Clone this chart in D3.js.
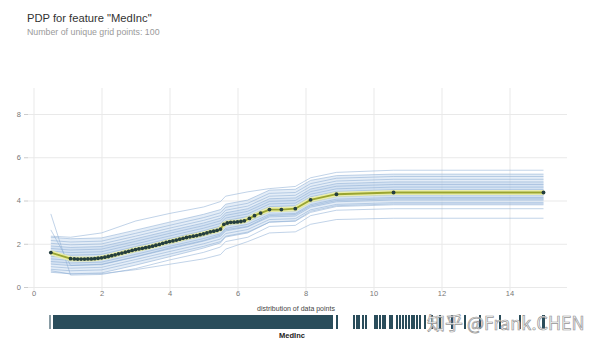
<!DOCTYPE html>
<html><head><meta charset="utf-8">
<script src="https://cdn.jsdelivr.net/npm/d3@7"></script>
<style>body{margin:0;background:#fff} svg{display:block}</style>
</head><body><svg id="c" width="600" height="345"></svg>
<script>
const titleText = 'PDP for feature "MedInc"';
const subtitleText = 'Number of unique grid points: 100';
const xTicks = [0,2,4,6,8,10,12,14];
const yTicks = [0,2,4,6,8];

const pdpX = [0.51,1.09,1.2,1.3,1.4,1.5,1.6,1.7,1.8,1.9,2.0,2.1,2.2,2.3,2.4,2.5,2.6,2.7,2.8,2.9,3.0,3.1,3.2,3.3,3.4,3.5,3.6,3.7,3.8,3.9,4.0,4.1,4.2,4.3,4.4,4.5,4.6,4.7,4.8,4.9,5.0,5.1,5.2,5.3,5.4,5.5,5.6,5.7,5.8,5.9,6.0,6.1,6.2,6.35,6.5,6.68,6.94,7.29,7.7,8.15,8.91,10.59,15.0];
const pdpY = [1.59,1.31,1.30,1.29,1.29,1.29,1.30,1.30,1.31,1.33,1.35,1.38,1.41,1.45,1.49,1.53,1.57,1.61,1.65,1.69,1.73,1.76,1.79,1.82,1.85,1.89,1.93,1.97,2.02,2.06,2.10,2.13,2.17,2.21,2.25,2.29,2.32,2.35,2.38,2.42,2.46,2.50,2.55,2.58,2.62,2.68,2.90,2.96,2.99,3.00,3.01,3.03,3.06,3.17,3.30,3.42,3.58,3.58,3.62,4.03,4.29,4.37,4.37];

const iceX = [0.51,1.09,2.0,3.0,4.0,5.0,5.5,5.65,6.3,6.94,7.7,8.15,8.91,10.59,15.0];
const ice01 = [2.30,2.23,2.27,2.63,3.00,3.36,3.58,3.83,4.02,4.48,4.52,4.93,5.15,5.22,5.22];
const ice02 = [2.15,2.08,2.12,2.48,2.85,3.21,3.43,3.68,3.87,4.33,4.37,4.78,5.03,5.11,5.11];
const ice03 = [2.02,1.95,1.99,2.35,2.72,3.08,3.30,3.55,3.74,4.20,4.24,4.65,4.90,4.98,4.98];
const ice04 = [1.90,1.83,1.87,2.23,2.60,2.96,3.18,3.43,3.62,4.08,4.12,4.53,4.78,4.86,4.86];
const ice05 = [1.78,1.71,1.75,2.11,2.48,2.84,3.06,3.31,3.50,3.96,4.00,4.41,4.66,4.74,4.74];
const ice06 = [1.66,1.59,1.63,1.99,2.36,2.72,2.94,3.19,3.38,3.84,3.88,4.29,4.54,4.62,4.62];
const ice07 = [1.54,1.47,1.51,1.87,2.24,2.60,2.82,3.07,3.26,3.72,3.76,4.17,4.42,4.50,4.50];
const ice08 = [1.42,1.35,1.39,1.75,2.12,2.48,2.70,2.95,3.14,3.60,3.64,4.05,4.30,4.38,4.38];
const ice09 = [1.30,1.23,1.27,1.63,2.00,2.36,2.58,2.83,3.02,3.48,3.52,3.93,4.18,4.26,4.26];
const ice10 = [1.18,1.11,1.15,1.51,1.88,2.24,2.46,2.71,2.90,3.36,3.40,3.81,4.06,4.14,4.14];
const ice11 = [1.06,0.99,1.03,1.39,1.76,2.12,2.34,2.59,2.78,3.24,3.28,3.69,3.94,4.02,4.02];
const ice12 = [0.94,0.87,0.91,1.27,1.64,2.00,2.22,2.47,2.66,3.12,3.16,3.57,3.82,3.90,3.90];
const ice13 = [0.82,0.75,0.79,1.15,1.52,1.88,2.10,2.35,2.54,3.00,3.04,3.45,3.72,3.80,3.80];
const ice14 = [0.68,0.61,0.65,1.01,1.40,1.80,2.04,2.31,2.50,3.00,3.06,3.50,3.76,3.84,3.84];
const iceTop = [2.35,2.30,2.50,3.05,3.40,3.70,3.95,4.20,4.40,4.55,4.65,5.05,5.30,5.40,5.40];
const iceLow = [0.75,0.60,0.62,0.80,1.05,1.30,1.50,1.75,2.10,2.50,2.55,2.90,3.12,3.18,3.18];
const iceSteep1 = [3.38,0.55,0.58,0.85,1.25,1.60,1.85,2.10,2.30,2.80,2.85,3.30,3.55,3.62,3.62];
const iceSteep2 = [2.64,1.00,1.05,1.40,1.80,2.15,2.40,2.65,2.80,3.30,3.35,3.75,4.00,4.08,4.08];

const rugValues = [0.49,0.64,0.7,0.8,0.9,1.0,1.1,1.2,1.3,1.4,1.5,1.6,1.7,1.8,1.9,2.0,2.1,2.2,2.3,2.4,2.5,2.6,2.7,2.8,2.9,3.0,3.1,3.2,3.3,3.4,3.5,3.6,3.7,3.8,3.9,4.0,4.1,4.2,4.3,4.4,4.5,4.6,4.7,4.8,4.9,5.0,5.1,5.2,5.3,5.4,5.5,5.6,5.7,5.8,5.9,6.0,6.1,6.2,6.3,6.4,6.5,6.6,6.7,6.8,6.9,7.0,7.1,7.2,7.3,7.4,7.5,7.6,7.7,7.8,7.9,8.0,8.1,8.2,8.3,8.4,8.5,8.6,8.7,8.75,8.92,9.43,9.51,9.57,9.69,9.79,10.04,10.1,10.2,10.28,10.35,10.49,10.54,10.69,10.78,10.87,10.96,11.04,11.13,11.2,11.28,11.37,11.51,11.72,11.96,12.31,12.69,13.13,13.72,14.3,14.98,15.0];

const featureName = 'MedInc';
const distLabel = 'distribution of data points';
const watermark = '知乎 @Frank.CHEN';

const svg = d3.select('#c');
const FONT = '"Liberation Sans", Arial, sans-serif';
const x = d3.scaleLinear().domain([0,14]).range([33.5,509.5]);
const y = d3.scaleLinear().domain([0,8]).range([287,114]);
const pLeft = 28, pRight = 567, pTop = 88, pBottom = 291;

svg.append('text').attr('x',27).attr('y',22).attr('font-family',FONT).attr('font-size',11.2).attr('fill','#333').text(titleText);
svg.append('text').attr('x',27).attr('y',35).attr('font-family',FONT).attr('font-size',8.8).attr('fill','#9a9a9a').text(subtitleText);

// grid
svg.append('g').attr('transform',`translate(${pLeft},0)`)
  .call(d3.axisLeft(y).tickValues(yTicks).tickSize(-(pRight-pLeft)).tickFormat(''))
  .call(g=>{g.select('.domain').remove(); g.selectAll('line').attr('stroke','#e9e9e9');});
svg.append('g').attr('transform',`translate(0,${pBottom})`)
  .call(d3.axisBottom(x).tickValues(xTicks).tickSize(-(pBottom-pTop)).tickFormat(''))
  .call(g=>{g.select('.domain').remove(); g.selectAll('line').attr('stroke','#e9e9e9');});

// y axis labels and dashes
svg.append('g').attr('transform',`translate(${pLeft},0)`)
  .call(d3.axisLeft(y).tickValues(yTicks).tickSize(4).tickPadding(3).tickFormat(d3.format('d')))
  .call(g=>{g.select('.domain').remove(); g.selectAll('line').attr('stroke','#ccc');
    g.selectAll('text').attr('font-family',FONT).attr('font-size',7.5).attr('fill','#777');});
// x axis labels
svg.append('g').attr('transform','translate(0,288)')
  .call(d3.axisBottom(x).tickValues(xTicks).tickSize(0).tickPadding(3).tickFormat(d3.format('d')))
  .call(g=>{g.select('.domain').remove();
    g.selectAll('text').attr('font-family',FONT).attr('font-size',7.5).attr('fill','#777');});

// ICE
const regular = [ice01,ice02,ice03,ice04,ice05,ice06,ice07,ice08,ice09,ice10,ice11,ice12,ice13,ice14];
const allIce = regular.concat([iceTop,iceLow,iceSteep1,iceSteep2]);
const band = d3.area().x((d,i)=>x(iceX[i])).y0((d,i)=>y(ice14[i])).y1((d,i)=>y(ice01[i]));
svg.append('path').datum(ice01).attr('d',band).attr('fill','#c4d8ee').attr('opacity',0.45);
const band2 = d3.area().x((d,i)=>x(iceX[i])).y0((d,i)=>y(ice11[i])).y1((d,i)=>y(ice04[i]));
svg.append('path').datum(ice01).attr('d',band2).attr('fill','#b6cde8').attr('opacity',0.35);
const iceLine = d3.line().x((d,i)=>x(iceX[i])).y(d=>y(d));
svg.append('g').selectAll('path').data(allIce).join('path')
  .attr('d',iceLine).attr('fill','none').attr('stroke','#8badd4').attr('stroke-width',0.9).attr('opacity',0.6);

// PDP
const pdp = pdpX.map((v,i)=>[v,pdpY[i]]);
const pl = d3.line().x(d=>x(d[0])).y(d=>y(d[1]));
svg.append('path').datum(pdp).attr('d',pl).attr('fill','none').attr('stroke','#eef0a0').attr('stroke-width',5).attr('opacity',0.85);
svg.append('path').datum(pdp).attr('d',pl).attr('fill','none').attr('stroke','#9aa530').attr('stroke-width',1.8);
svg.append('g').selectAll('circle').data(pdp).join('circle')
  .attr('cx',d=>x(d[0])).attr('cy',d=>y(d[1])).attr('r',1.9).attr('fill','#243e3f');

// distribution
svg.append('text').attr('x',296).attr('y',311).attr('text-anchor','middle').attr('font-family',FONT).attr('font-size',7).attr('fill','#444').text(distLabel);
svg.append('g').attr('shape-rendering','crispEdges').selectAll('line').data(rugValues).join('line')
  .attr('x1',d=>x(d)).attr('x2',d=>x(d)).attr('y1',315).attr('y2',328.5)
  .attr('stroke','#2a4d5b').attr('stroke-width',(d,i)=>i===0?1.6:(d<=8.75?4.4:2)).attr('opacity',(d,i)=>i===0?0.55:1);
svg.append('text').attr('x',292).attr('y',338).attr('text-anchor','middle').attr('font-family',FONT).attr('font-size',7.5).attr('font-weight','bold').attr('fill','#222').text(featureName);

// watermark
svg.append('text').attr('x',427).attr('y',330).attr('font-family','"Noto Sans CJK SC", sans-serif').attr('font-size',18)
  .attr('fill','#ffffff').attr('stroke','#8a8a8a').attr('stroke-width',0.7).attr('opacity',0.9).text(watermark);
</script></body></html>
